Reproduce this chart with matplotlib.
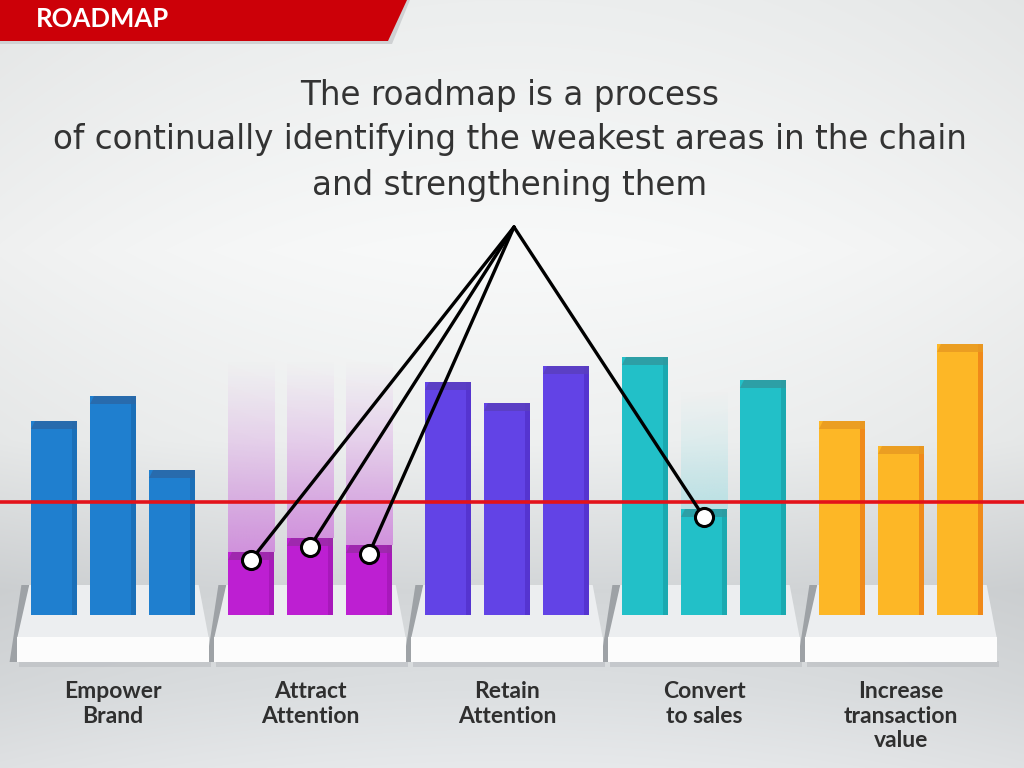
import numpy as np
import matplotlib
matplotlib.use("Agg")
import matplotlib.pyplot as plt
from matplotlib.patches import Polygon, Rectangle
from matplotlib.colors import to_rgb

# ---------------- data ----------------
categories = ["Empower\nBrand", "Attract\nAttention", "Retain\nAttention",
              "Convert\nto sales", "Increase\ntransaction\nvalue"]
empower_brand = [86, 97, 64]
attract_attention = [28, 34, 31]
retain_attention = [103, 94, 110]
convert_to_sales = [114, 47, 104]
increase_value = [86, 75, 120]
threshold = 50
title_lines = ["The roadmap is a process",
               "of continually identifying the weakest areas in the chain",
               "and strengthening them"]
header = "ROADMAP"

groups = [empower_brand, attract_attention, retain_attention, convert_to_sales, increase_value]
colors = ["#1f7fcf", "#bd1fd2", "#6243e6", "#22c0c8", "#fdb726"]
cap_colors = ["#2a68a8", "#9a2aa8", "#5a3fc0", "#2f9aa0", "#e89a22"]
side_colors = ["#1a6fb8", "#a818bb", "#5534d0", "#1aa9b0", "#f08a1a"]
ghost_colors = ["#1f7fcf", "#cc62dd", "#6243e6", "#7fdde4", "#fdb726"]

# ---------------- layout ----------------
W, H, DPI = 1024, 768, 100
fig = plt.figure(figsize=(W / DPI, H / DPI), dpi=DPI)

def fx(px):
    return px / W

def fy(py):
    return 1 - py / H

# background gradient
bg = fig.add_axes([0, 0, 1, 1], zorder=-10)
stops_y = [0, 250, 440, 590, 690, 768]
stops_c = ["#eceeee", "#f8f9f9", "#eef0f0", "#d3d6d8", "#dcdfe1", "#e7e9eb"]
ys = np.arange(H)
grad = np.zeros((H, 1, 3))
for ch in range(3):
    grad[:, 0, ch] = np.interp(ys, stops_y, [to_rgb(c)[ch] for c in stops_c])
xs = np.linspace(-1, 1, W)
vign = 1 - 0.035 * xs ** 2
img = grad * vign[None, :, None]
bg.imshow(img, aspect="auto", extent=[0, 1, 0, 1], origin="upper")
bg.set_xlim(0, 1); bg.set_ylim(0, 1)
bg.axis("off")

# main axes: value 0 at pixel row 615, threshold at row 502
k = threshold / 113.0  # units per pixel
base_px = 615
group_c0, group_sp = 113, 197
ax = fig.add_axes([0, 0, 1, 1])
ax.patch.set_alpha(0)
ax.axis("off")
xlim = (-group_c0 / group_sp, (W - group_c0) / group_sp)
ylim = (-(H - base_px) * k, base_px * k)

bar_off = 0.30
bar_w = 0.235
cap_h = 8 * k
cap_dx = 0.02

# platforms
plat_half = 0.485
top_back = 30 * k
top_front = -22 * k
front_bot = -47 * k
for gi in range(len(groups)):
    x0, x1 = gi - plat_half, gi + plat_half
    ax.add_patch(Rectangle((x0 + 0.01, front_bot - 5 * k), x1 - x0, 6 * k,
                           facecolor="#b9bcc0", edgecolor="none", alpha=0.6, zorder=1))
    ax.add_patch(Polygon([(x0 - 0.04, front_bot), (x0, front_bot), (x0 + 0.06, top_back),
                          (x0 + 0.02, top_back)], closed=True,
                         facecolor="#9ea2a6", edgecolor="none", zorder=1.5))
    ax.add_patch(Polygon([(x0, top_front), (x1, top_front), (x1 - 0.05, top_back),
                          (x0 + 0.06, top_back)], closed=True,
                         facecolor="#eceef0", edgecolor="none", zorder=2))
    ax.add_patch(Rectangle((x0, front_bot), x1 - x0, top_front - front_bot,
                           facecolor="#fcfcfc", edgecolor="none", zorder=2))

# ghost bars above weak bars
for gi, vals in enumerate(groups):
    for j, v in enumerate(vals):
        if v < threshold:
            xc = gi + (j - 1) * bar_off
            top = 113 if gi == 1 else 100
            n = 200
            rgba = np.zeros((n, 1, 4))
            rgba[:, 0, :3] = to_rgb(ghost_colors[gi])
            a0 = 0.6 if gi == 1 else 0.4
            rgba[:, 0, 3] = a0 * np.linspace(1, 0, n) ** 1.2
            ax.imshow(rgba, extent=[xc - bar_w / 2, xc + bar_w / 2, v, top],
                      origin="lower", aspect="auto", zorder=2.5, interpolation="bilinear")

# bars
for gi, vals in enumerate(groups):
    xs_ = [gi + (j - 1) * bar_off for j in range(len(vals))]
    ax.bar(xs_, vals, width=bar_w, color=colors[gi], edgecolor="none", zorder=3)
    for xc, v in zip(xs_, vals):
        x0, x1 = xc - bar_w / 2, xc + bar_w / 2
        ax.add_patch(Rectangle((x1 - 0.025, 0), 0.025, v, facecolor=side_colors[gi],
                               edgecolor="none", zorder=3.1))
        ax.add_patch(Polygon([(x0, v - cap_h), (x1, v - cap_h), (x1, v), (x0 + cap_dx, v)],
                             closed=True, facecolor=cap_colors[gi], edgecolor="none",
                             alpha=0.85, zorder=3.2))

# threshold line
ax.axhline(threshold, color="#e3121a", lw=2.6, zorder=4)

# callout lines from apex to weak bars
apex = ((514 - group_c0) / group_sp, (base_px - 227) * k)
for gi, vals in enumerate(groups):
    for j, v in enumerate(vals):
        if v < threshold:
            xc = gi + (j - 1) * bar_off
            yc = v - 3.8
            ax.plot([apex[0], xc], [apex[1], yc], color="black", lw=2.4,
                    solid_capstyle="round", zorder=5)
            ax.plot([xc], [yc], marker="o", ms=13, mfc="white", mec="black",
                    mew=2.2, zorder=6)

ax.set_xlim(*xlim)
ax.set_ylim(*ylim)

# category labels
for gi, lab in enumerate(categories):
    ax.text(gi, (base_px - 681) * k, lab, ha="center", va="top",
            fontsize=16.5, fontweight="bold", family="Lato", color="#2f2f2f",
            linespacing=1.22, zorder=6)

# title text
for i, line in enumerate(title_lines):
    fig.text(fx(510), fy(95 + 45 * i), line, ha="center", va="center",
             fontsize=23.5, family="DejaVu Sans", color="#333333")

# header banner
fig.patches.append(Polygon([(fx(0), fy(44)), (fx(392), fy(44)), (fx(410), fy(0)),
                            (fx(0), fy(0))], closed=True, transform=fig.transFigure,
                           facecolor="#cfd1d3", edgecolor="none", zorder=0))
fig.patches.append(Polygon([(fx(0), fy(41)), (fx(388), fy(41)), (fx(407), fy(0)),
                            (fx(0), fy(0))], closed=True, transform=fig.transFigure,
                           facecolor="#cc0008", edgecolor="none", zorder=1))
fig.text(fx(36), fy(19), header, ha="left", va="center", fontsize=18.5,
         fontweight="bold", family="Lato", color="white")

fig.savefig("out.png", dpi=DPI)
